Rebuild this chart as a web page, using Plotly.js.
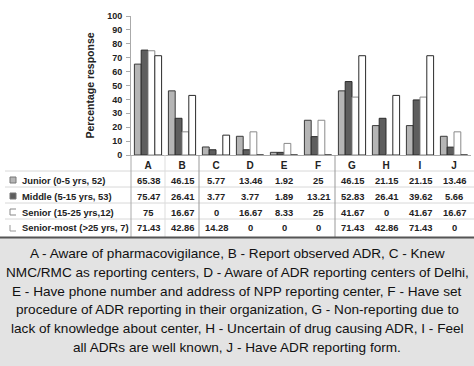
<!DOCTYPE html>
<html>
<head>
<meta charset="utf-8">
<script src="https://cdn.plot.ly/plotly-3.0.1.min.js"></script>
<style>html,body{margin:0;padding:0;background:#fff;}#chart{width:474px;height:366px;}</style>
</head>
<body>
<div id="chart"></div>
<script>
// ---- data ----
var categories = ["A","B","C","D","E","F","G","H","I","J"];
var seriesNames = ["Junior (0-5 yrs, 52)","Middle (5-15 yrs, 53)","Senior (15-25 yrs,12)","Senior-most (>25 yrs, 7)"];
var junior     = [65.38, 46.15, 5.77, 13.46, 1.92, 25, 46.15, 21.15, 21.15, 13.46];
var middle     = [75.47, 26.41, 3.77, 3.77, 1.89, 13.21, 52.83, 26.41, 39.62, 5.66];
var senior     = [75, 16.67, 0, 16.67, 8.33, 25, 41.67, 0, 41.67, 16.67];
var seniorMost = [71.43, 42.86, 14.28, 0, 0, 0, 71.43, 42.86, 71.43, 0];
var yTicks = [0,10,20,30,40,50,60,70,80,90,100];
var captionLines = [
  "A - Aware of pharmacovigilance, B - Report observed ADR, C - Knew",
  "NMC/RMC as reporting centers, D - Aware of ADR reporting centers of Delhi,",
  "E - Have phone number and address of NPP reporting center, F - Have set",
  "procedure of ADR reporting in their organization, G - Non-reporting due to",
  "lack of knowledge about center, H - Uncertain of drug causing ADR, I - Feel",
  "all ADRs are well known, J - Have ADR reporting form."
];

// ---- layout helpers (pixel -> paper) ----
var W = 474, H = 366, L = 131, R = 3, T = 16, B = 211;
var PW = W - L - R, PH = H - T - B;
function px(x){ return (x - L) / PW; }
function py(y){ return (H - B - y) / PH; }

var FONT = "Liberation Sans, Arial, sans-serif";
var allSeries = [junior, middle, senior, seniorMost];
var fills = ["#b5b5b5", "#5e5e5e", "#ffffff", "#ffffff"];
var edges = ["#3a3a3a", "#2a2a2a", "#8a8a8a", "#2a2a2a"];

var traces = allSeries.map(function(vals, i){
  return {
    type: "bar", x: categories, y: vals, name: seriesNames[i],
    marker: {color: fills[i], line: {color: edges[i], width: 1}},
    hoverinfo: "skip"
  };
});

var shapes = [];
var annotations = [];
var rowY = [180, 196, 212, 228];

// table horizontal lines
[171, 187, 203, 219].forEach(function(y){
  shapes.push({type:"line", xref:"paper", yref:"paper", x0:px(5), x1:px(474), y0:py(y), y1:py(y),
    line:{color:"#d8d8d8", width:1}});
});
// table vertical lines
shapes.push({type:"line", xref:"paper", yref:"paper", x0:0, x1:0, y0:py(155), y1:py(237), line:{color:"#aaaaaa", width:1}});
shapes.push({type:"line", xref:"x", yref:"paper", x0:0.5, x1:0.5, y0:py(155), y1:py(237), line:{color:"#dddddd", width:1}});
[1.5, 5.5].forEach(function(xv){
  shapes.push({type:"line", xref:"x", yref:"paper", x0:xv, x1:xv, y0:py(155), y1:py(237), line:{color:"#999999", width:1}});
});
// caption box
shapes.push({type:"rect", xref:"paper", yref:"paper", x0:px(0), x1:px(474), y0:py(237), y1:py(366),
  fillcolor:"#e3e3e3", line:{width:0}, layer:"below"});
shapes.push({type:"line", xref:"paper", yref:"paper", x0:px(0), x1:px(474), y0:py(237.5), y1:py(237.5),
  line:{color:"#555555", width:2}});

// legend keys in table
function keyBox(i, y){
  var x0 = px(10), x1 = px(16), y0 = py(y + 3), y1 = py(y - 3);
  if (i < 2) {
    shapes.push({type:"rect", xref:"paper", yref:"paper", x0:x0, x1:x1, y0:y0, y1:y1,
      fillcolor: fills[i], line:{color:"#777", width:1}});
  } else if (i === 2) {
    shapes.push({type:"path", xref:"paper", yref:"paper",
      path:"M"+x1+","+y1+" L"+x0+","+y1+" L"+x0+","+y0+" L"+x1+","+y0, line:{color:"#888", width:1}});
  } else {
    shapes.push({type:"path", xref:"paper", yref:"paper",
      path:"M"+x0+","+y1+" L"+x0+","+y0+" L"+x1+","+y0, line:{color:"#999", width:1}});
  }
}

var tblFont = {family:FONT, size:9.4, color:"#222", weight:"bold"};
allSeries.forEach(function(vals, i){
  keyBox(i, rowY[i]);
  annotations.push({xref:"paper", yref:"paper", x:px(20), y:py(rowY[i]), xanchor:"left", yanchor:"middle",
    text: seriesNames[i], showarrow:false, font:tblFont});
  vals.forEach(function(v, j){
    annotations.push({xref:"x", yref:"paper", x:categories[j], y:py(rowY[i]), xanchor:"center", yanchor:"middle",
      text: String(v), showarrow:false, font:tblFont});
  });
});

// caption, one annotation per line
var capY = [253, 272, 291, 309.5, 328, 347];
captionLines.forEach(function(line, k){
  annotations.push({xref:"paper", yref:"paper", x:px(237), y:py(capY[k]), xanchor:"center", yanchor:"middle",
    text: line, showarrow:false, font:{family:FONT, size:13.6, color:"#111"}});
});

var layout = {
  width: W, height: H,
  margin: {l:L, r:R, t:T, b:B, pad:0},
  paper_bgcolor: "#ffffff", plot_bgcolor: "#ffffff",
  barmode: "group", bargap: 0.2, bargroupgap: 0,
  showlegend: false,
  font: {family: FONT, color: "#222"},
  xaxis: {type:"category", showline:true, linecolor:"#aaaaaa", linewidth:1, ticks:"", showgrid:false,
    tickfont:{family:FONT, size:10, color:"#222", weight:"bold"}, ticklabelstandoff: 1, fixedrange:true},
  yaxis: {range:[0,100], tickvals:yTicks, showline:true, linecolor:"#aaaaaa", linewidth:1,
    ticks:"outside", ticklen:4, tickcolor:"#aaaaaa", showgrid:false, zeroline:false,
    tickfont:{family:FONT, size:9, color:"#222", weight:"bold"}, ticklabelstandoff: 2,
    title:{text:"Percentage response", font:{family:FONT, size:10.5, color:"#222", weight:"bold"}, standoff:10},
    fixedrange:true},
  shapes: shapes,
  annotations: annotations
};

Plotly.newPlot("chart", traces, layout, {displayModeBar:false, staticPlot:true});
</script>
</body>
</html>
